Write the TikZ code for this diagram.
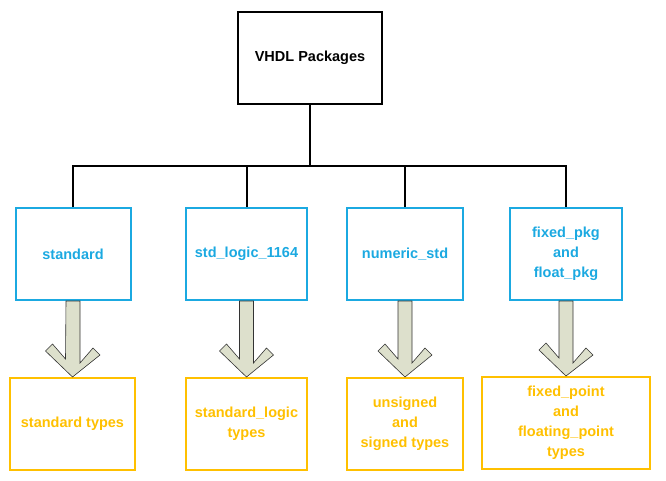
\documentclass[tikz,border=0pt]{standalone}
\usepackage{fontspec}
\setmainfont{Liberation Sans}
\definecolor{bl}{HTML}{1BA9E1}
\definecolor{orc}{HTML}{FFC000}
\definecolor{arf}{HTML}{DDE0CC}
\begin{document}
\begin{tikzpicture}[x=1pt,y=-1pt,
  top/.style={draw=black,line width=2pt,minimum width=144pt,minimum height=92pt,font=\bfseries\fontsize{14.5}{18}\selectfont,align=center},
  pkg/.style={draw=bl,line width=2pt,text=bl,minimum height=92pt,inner sep=1pt,font=\bfseries\fontsize{14.5}{20}\selectfont,align=center},
  typ/.style={draw=orc,line width=2pt,text=orc,minimum height=92pt,inner sep=1pt,font=\bfseries\fontsize{14.5}{20}\selectfont,align=center},
  ln/.style={line width=2pt}]
\useasboundingbox (0,0) rectangle (666,481);
\node[top] (t) at (310,58) {VHDL Packages};
\node[pkg,minimum width=115pt] (p1) at (73,254) {standard};
\node[pkg,minimum width=121pt] (p2) at (246.5,254) {std\_logic\_1164};
\node[pkg,minimum width=116pt] (p3) at (405,254) {numeric\_std};
\node[pkg,minimum width=112pt] (p4) at (566,254) {fixed\_pkg\\and\\float\_pkg};
\node[typ,minimum width=125pt] (o1) at (72.5,424) {standard types};
\node[typ,minimum width=121pt] (o2) at (246.5,424) {standard\_logic\\types};
\node[typ,minimum width=116pt] (o3) at (405,424) {unsigned\\and\\signed types};
\node[typ,minimum width=168pt] (o4) at (566,423) {fixed\_point\\and\\floating\_point\\types};
\coordinate (j) at (t.south |- 0,166);
\draw[ln] (t.south) -- (j);
\draw[ln] (p1.north) |- (j) -| (p4.north);
\draw[ln] (p2.north) -- (p2.north |- j);
\draw[ln] (p3.north) -- (p3.north |- j);
\foreach \p/\o in {p1/o1,p2/o2,p3/o3,p4/o4}{
  \draw[fill=arf,draw=black!80,line width=0.6pt] ([xshift=-7pt]\p.south) -- ([xshift=7pt]\p.south)
    -- ++(0,62) -- ++(13,-15) -- ++(7,7) -- (\o.north) -- ++(-27,-26) -- ++(7,-7) -- ++(13,15) -- cycle;
}
\end{tikzpicture}
\end{document}
